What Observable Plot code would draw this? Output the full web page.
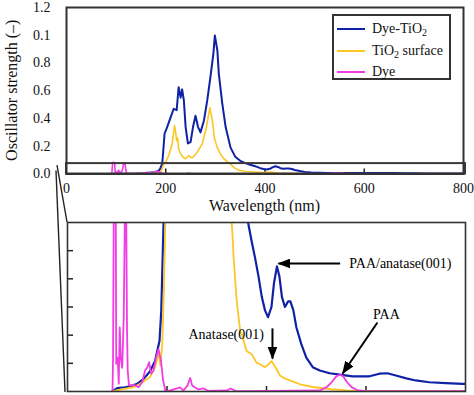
<!DOCTYPE html>
<html>
<head>
<meta charset="utf-8">
<script src="https://cdn.jsdelivr.net/npm/d3@7"></script>
<script src="https://cdn.jsdelivr.net/npm/@observablehq/plot@0.6"></script>
<style>
  html, body { margin: 0; padding: 0; background: #fff; }
  #fig { position: relative; width: 474px; height: 395px; font-family: "Liberation Serif", "Times New Roman", serif; }
  #fig > svg { position: absolute; left: 0; top: 0; }
  #fig svg text { font-family: "Liberation Serif", "Times New Roman", serif; }
  .legend { position: absolute; left: 332px; top: 14px; width: 115px; height: 62px; border: 2px solid #333; background: #fff; font-size: 14px; color: #111; }
  .legend .row { position: absolute; left: 3px; height: 18px; display: flex; align-items: center; white-space: nowrap; }
  .legend .sw { width: 28px; height: 2px; margin-right: 7px; }
  .legend sub { font-size: 10px; vertical-align: -3px; line-height: 0; }
</style>
</head>
<body>
<div id="fig"></div>
<script>
// Oscillator strength spectra (wavelength in nm, strength dimensionless)
const seriesNames = ["Dye-TiO2", "TiO2 surface", "Dye"];
const seriesColors = ["#0f22a6", "#fcc624", "#f23ce4"];

const dyeTiO2Nm = [90, 100, 115, 126, 140, 153, 166, 176, 185, 188.5, 193, 197.6, 203, 210, 216, 222, 226, 230, 233, 236.5, 240, 244.6, 250, 255, 260, 265, 270, 277, 283.6, 290, 296, 299, 304, 307, 314, 320.6, 330.6, 340, 350, 357, 363, 370, 377, 384, 390.5, 397, 403, 410, 415, 421, 426, 431, 437, 443.5, 448, 454, 460, 470, 480, 493, 507, 527, 547, 573, 607, 627, 643, 660, 681, 700, 727, 761, 794, 800];
const dyeTiO2Val = [0, 0.00015, 0.00019, 0.000225, 0.00034, 0.00056, 0.0009, 0.00135, 0.00225, 0.0036, 0.0074, 0.029, 0.034, 0.041, 0.047, 0.046, 0.0626, 0.055, 0.061, 0.053, 0.034, 0.022, 0.023, 0.034, 0.042, 0.034, 0.030, 0.0386, 0.053, 0.0698, 0.0867, 0.0999, 0.089, 0.072, 0.0506, 0.034, 0.019, 0.0125, 0.0095, 0.0083, 0.0075, 0.00668, 0.00593, 0.0051, 0.0042, 0.0036, 0.0033, 0.00375, 0.0048, 0.00555, 0.0051, 0.0042, 0.00375, 0.004, 0.004, 0.0036, 0.00285, 0.0021, 0.0015, 0.00108, 0.00093, 0.00081, 0.00075, 0.000675, 0.000675, 0.00079, 0.00081, 0.00071, 0.00058, 0.00049, 0.00041, 0.000375, 0.00034, 0.00034];

const tio2Nm = [90, 110, 133, 150, 166, 176, 183, 187, 190.5, 193, 195, 197, 199.6, 206, 213, 217.7, 220, 222, 224, 226, 230, 235, 240, 246.6, 251, 255, 263.5, 273.6, 282, 286, 289, 291, 294, 298, 304, 310, 316, 322, 328, 331, 334, 340, 347, 350, 360, 370, 380, 388, 397, 404, 410, 415, 420, 427, 437, 447, 470, 493, 530, 561, 600, 800];
const tio2Val = [0, 0.0001, 0.00019, 0.0004, 0.00064, 0.00108, 0.00172, 0.00115, 0.0021, 0.0039, 0.00585, 0.0078, 0.0085, 0.0133, 0.0218, 0.035, 0.030, 0.024, 0.026, 0.018, 0.0146, 0.012, 0.011, 0.0133, 0.0118, 0.0121, 0.0157, 0.0218, 0.0337, 0.042, 0.0477, 0.044, 0.0386, 0.026, 0.019, 0.0145, 0.0115, 0.0095, 0.008, 0.0072, 0.0059, 0.00405, 0.0027, 0.00255, 0.0018, 0.00165, 0.00128, 0.0012, 0.00108, 0.0012, 0.00135, 0.00118, 0.001, 0.00071, 0.00058, 0.00049, 0.0003, 0.0002, 0.0001, 0.00005, 0.00003, 0.00002];

const dyeNm = [90, 90.5, 91.6, 93, 95, 97, 98, 101, 103, 105, 107, 110, 113, 115.6, 118, 119.6, 121, 123.6, 133, 143, 150, 156, 160, 164, 168, 173, 178, 183, 188, 192, 196.5, 200, 206.5, 220, 226, 233, 241, 246.6, 250.6, 256.6, 263, 273, 283, 320, 328, 337, 360, 507, 521, 531, 539, 547, 554, 562, 571, 584, 600, 800];
const dyeVal = [0, 0.00008, 0.0015, 0.0082, 0.0085, 0.0082, 0.00123, 0.0015, 0.00035, 0.00285, 0.0015, 0.00105, 0.0033, 0.0083, 0.008, 0.00285, 0.00093, 0.00026, 0.0003, 0.00019, 0.00041, 0.00093, 0.00105, 0.0013, 0.00079, 0.00093, 0.0015, 0.00188, 0.00135, 0.00053, 0.000045, 0.000015, 0.000045, 0.000135, 0.00018, 0.000045, 0.00026, 0.0006, 0.00026, 0.00018, 0.00009, 0.000135, 0.00003, 0.000045, 0.000135, 0.00003, 0.000015, 0.000045, 0.000195, 0.00041, 0.00064, 0.00075, 0.000675, 0.00041, 0.000195, 0.000045, 0.000015, 0.000015];

// Axis ticks and their printed labels
const xTicks = [0, 200, 400, 600, 800];
const xTickLabels = ["0", "200", "400", "600", "800"];
const yTicks = [0, 0.02, 0.04, 0.06, 0.08, 0.10, 0.12];
const yTickLabels = ["0.0", "0.2", "0.4", "0.6", "0.8", "0.1", "1.2"];
const innerXTicks = [200, 400, 600];
const xTitle = "Wavelength (nm)";
const yTitle = "Oscillator strength (–)";

// Magnified window (0–800 nm, 0–zoomMax)
const zoomMax = 0.0075;
const zoomYTicks = [1, 2, 3, 4, 5].map(k => k * zoomMax / 6);

// Annotations inside the magnified panel
const noteText = ["PAA/anatase(001)", "Anatase(001)", "PAA"];
const noteX = [669, 319, 641];
const noteY = [0.00568, 0.00253, 0.00342];
const arrowX1 = [548, 412, 623];
const arrowY1 = [0.00568, 0.0028, 0.00306];
const arrowX2 = [424, 412, 553];
const arrowY2 = [0.00568, 0.00146, 0.0008];

const W = 474, H = 395;
const font = '"Liberation Serif", "Times New Roman", serif';

const series = [
  {nm: dyeTiO2Nm, val: dyeTiO2Val},
  {nm: tio2Nm, val: tio2Val},
  {nm: dyeNm, val: dyeVal}
].map((s, i) => ({
  name: seriesNames[i],
  color: seriesColors[i],
  points: s.nm.map((x, j) => ({x, y: s.val[j]}))
}));

const lineWidths = [2, 1.6, 1.6];

// Upper panel layout
const upperBox = {left: 66, right: 463, top: 7, bottom: 173.5};
// Lower (magnified) panel layout
const lowerBox = {left: 67, right: 465, top: 222, bottom: 391};

const zoomBox = [{x1: 0, x2: 800, y1: 0, y2: zoomMax}];
const labelOf = (ticks, labels) => d => labels[ticks.findIndex(t => Math.abs(t - d) < 1e-9)];
const svgStyle = {"background": "transparent", "font-family": font, "font-size": "14px", "color": "#111"};

const upper = Plot.plot({
  width: W, height: H,
  marginLeft: upperBox.left, marginRight: W - upperBox.right, marginTop: upperBox.top, marginBottom: H - upperBox.bottom,
  style: svgStyle,
  x: {domain: [0, 800], ticks: xTicks, tickFormat: labelOf(xTicks, xTickLabels), tickSize: 0, tickPadding: 9, label: null},
  y: {domain: [0, 0.12], ticks: yTicks, tickFormat: labelOf(yTicks, yTickLabels), tickSize: 0, tickPadding: 16, label: null},
  marks: [
    Plot.tickX(innerXTicks, {x: d => d, insetTop: (upperBox.bottom - upperBox.top) - 5, stroke: "#222", strokeWidth: 1.5}),
    ...series.map((s, i) => Plot.line(s.points, {x: "x", y: "y", stroke: s.color, strokeWidth: lineWidths[i], curve: "linear"})),
    Plot.rect(zoomBox, {x1: "x1", x2: "x2", y1: "y1", y2: "y2", fill: "none", stroke: "#3a3a3a", strokeWidth: 2, insetRight: -2}),
    Plot.frame({stroke: "#333", strokeWidth: 2})
  ]
});

const lower = Plot.plot({
  width: W, height: H,
  marginLeft: lowerBox.left, marginRight: W - lowerBox.right, marginTop: lowerBox.top, marginBottom: H - lowerBox.bottom,
  style: svgStyle,
  x: {domain: [0, 800], axis: null},
  y: {domain: [0, zoomMax], axis: null},
  marks: [
    Plot.tickX(innerXTicks, {x: d => d, insetTop: (lowerBox.bottom - lowerBox.top) - 5, stroke: "#222", strokeWidth: 1.5}),
    Plot.tickY(zoomYTicks, {y: d => d, insetRight: (lowerBox.right - lowerBox.left) - 6, stroke: "#222", strokeWidth: 1.5}),
    ...series.map((s, i) => Plot.line(s.points, {x: "x", y: "y", stroke: s.color, strokeWidth: lineWidths[i] + 0.2, clip: true})),
    Plot.frame({stroke: "#333", strokeWidth: 1.6}),
    Plot.link(noteText, {x1: (d, i) => arrowX1[i], y1: (d, i) => arrowY1[i], x2: (d, i) => arrowX2[i], y2: (d, i) => arrowY2[i], stroke: "#000", strokeWidth: 2, markerEnd: "arrow"}),
    Plot.text(noteText, {x: (d, i) => noteX[i], y: (d, i) => noteY[i], text: d => d, fontSize: 14, fill: "#000"})
  ]
});

// Solid triangular arrowheads
d3.select(lower).selectAll("marker")
  .attr("viewBox", "-12 -5 13 10")
  .attr("markerUnits", "userSpaceOnUse")
  .attr("markerWidth", 13).attr("markerHeight", 10)
  .attr("refX", 0).attr("refY", 0)
  .attr("fill", "#000").attr("stroke", "none")
  .selectAll("path").attr("d", "M-12,-5L1,0L-12,5Z");

const fig = document.getElementById("fig");
fig.appendChild(upper);
fig.appendChild(lower);

// Axis titles and the lines tying the magnified window to the lower panel
const overlay = d3.create("svg").attr("width", W).attr("height", H);
const yUpper = d3.scaleLinear().domain([0, 0.12]).range([upperBox.bottom, upperBox.top]);
const anchorX = upperBox.left - 9;
overlay.append("text")
  .attr("x", (upperBox.left + upperBox.right) / 2).attr("y", 211)
  .attr("text-anchor", "middle").attr("font-size", 16).attr("fill", "#111")
  .text(xTitle);
overlay.append("text")
  .attr("transform", `translate(17,${(upperBox.top + upperBox.bottom) / 2}) rotate(-90)`)
  .attr("text-anchor", "middle").attr("font-size", 16).attr("fill", "#111")
  .text(yTitle);
overlay.append("line")
  .attr("x1", anchorX).attr("y1", yUpper(zoomMax) + 2)
  .attr("x2", lowerBox.left).attr("y2", lowerBox.top)
  .attr("stroke", "#222").attr("stroke-width", 1.4);
overlay.append("line")
  .attr("x1", anchorX - 1).attr("y1", yUpper(0) - 3)
  .attr("x2", lowerBox.left - 2).attr("y2", lowerBox.bottom + 1)
  .attr("stroke", "#222").attr("stroke-width", 1.4);
fig.appendChild(overlay.node());

// Legend
const legend = document.createElement("div");
legend.className = "legend";
series.forEach((s, i) => {
  const row = document.createElement("div");
  row.className = "row";
  row.style.top = (4 + i * 21.5) + "px";
  const sw = document.createElement("span");
  sw.className = "sw";
  sw.style.background = s.color;
  const label = document.createElement("span");
  label.innerHTML = s.name.replace(/O2/, "O<sub>2</sub>");
  row.appendChild(sw);
  row.appendChild(label);
  legend.appendChild(row);
});
fig.appendChild(legend);
</script>
</body>
</html>
